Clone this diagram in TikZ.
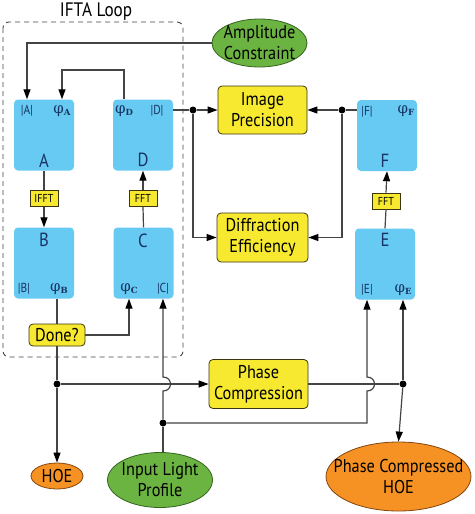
\documentclass[tikz,border=0pt]{standalone}
\usepackage{fontspec}
\setmainfont{PT Sans}[FakeStretch=0.88]
\newfontfamily\phfont{DejaVu Serif}
\usetikzlibrary{shapes.geometric,arrows.meta}

\definecolor{cellblue}{RGB}{102,202,242}
\definecolor{celltext}{RGB}{24,52,100}
\definecolor{stepyellow}{RGB}{246,233,48}
\definecolor{stepedge}{RGB}{60,54,16}
\definecolor{ovalgreen}{RGB}{108,180,66}
\definecolor{greenedge}{RGB}{50,100,30}
\definecolor{ovalorange}{RGB}{246,146,36}
\definecolor{orangeedge}{RGB}{130,70,16}
\definecolor{linegray}{RGB}{68,68,68}

\newcommand{\phlab}[1]{{\fontsize{15}{15}\selectfont\phfont φ}{\fontsize{8.5}{8.5}\selectfont\phfont\bfseries\raisebox{-2pt}{#1}}}

\tikzset{
  wire/.style={draw=linegray, line width=1.2pt},
  arr/.style={wire, -{Triangle[length=10pt,width=7pt,black]}},
  cell/.style={rectangle, rounded corners=4pt, fill=cellblue, minimum width=60pt, minimum height=71pt, inner sep=0pt},
  celltxt/.style={text=celltext, inner sep=0pt, font=\fontsize{13}{15}\selectfont},
  cellname/.style={text=celltext, inner sep=0pt, font=\fontsize{19}{21}\selectfont},
  stepbox/.style={rectangle, rounded corners=4pt, fill=stepyellow, draw=stepedge, line width=0.8pt, align=center, inner sep=0pt, font=\fontsize{18.5}{21}\selectfont},
  fftbox/.style={rectangle, fill=stepyellow, draw=stepedge, line width=0.8pt, minimum width=28pt, minimum height=16pt, inner sep=0pt, font=\fontsize{11.5}{12}\selectfont},
  oval/.style={ellipse, line width=0.8pt, inner sep=0pt},
  ovaltxt/.style={align=center, font=\fontsize{18.5}{21}\selectfont},
  dot/.style={circle, fill=black, minimum size=7pt, inner sep=0pt},
}

\begin{document}
\begin{tikzpicture}[x=1pt,y=-1pt]
  \useasboundingbox (0,0) rectangle (474,514);

  % IFTA loop frame
  \draw[draw=linegray, line width=0.9pt, dash pattern=on 5pt off 4pt, rounded corners=6pt] (3,22) rectangle (183,357);
  \node[font=\fontsize{19.5}{21}\selectfont] (loop) at (96,12) {IFTA Loop};

  % cells
  \node[cell] (A) at (44,135) {};
  \node[cell] (D) at (143,135) {};
  \node[cell] (B) at (44,263) {};
  \node[cell] (C) at (143.5,263) {};
  \node[cell] (F) at (387,135.5) {};
  \node[cell] (E) at (385,264) {};

  \node[celltxt] (Aabs) at (27,111) {|A|};
  \node[celltxt] (Aphi) at (62,111) {\phlab{A}};
  \node[cellname] (Aname) at (44,161) {A};
  \node[celltxt] (Dphi) at (124,111) {\phlab{D}};
  \node[celltxt] (Dabs) at (157,111) {|D|};
  \node[cellname] (Dname) at (143,160) {D};
  \node[cellname] (Bname) at (44,240) {B};
  \node[celltxt] (Babs) at (24,289) {|B|};
  \node[celltxt] (Bphi) at (59,289) {\phlab{B}};
  \node[cellname] (Cname) at (143,241) {C};
  \node[celltxt] (Cphi) at (129,289) {\phlab{C}};
  \node[celltxt] (Cabs) at (163,289) {|C|};
  \node[celltxt] (Fabs) at (367,112) {|F|};
  \node[celltxt] (Fphi) at (406,111) {\phlab{F}};
  \node[cellname] (Fname) at (385,161) {F};
  \node[cellname] (Ename) at (385,240) {E};
  \node[celltxt] (Eabs) at (367,290) {|E|};
  \node[celltxt] (Ephi) at (403,290) {\phlab{E}};

  % transforms
  \node[fftbox] (ifft) at (44,198.5) {IFFT};
  \node[fftbox] (fftL) at (143,198.5) {FFT};
  \node[fftbox] (fftR) at (386,201) {FFT};

  % steps
  \node[stepbox, minimum width=56pt, minimum height=22pt] (done) at (57,335) {Done?};
  \node[stepbox, minimum width=89pt, minimum height=48pt] (img) at (262.5,110) {Image\\Precision};
  \node[stepbox, minimum width=91pt, minimum height=49pt] (diff) at (262.5,237.5) {Diffraction\\Efficiency};
  \node[stepbox, minimum width=99pt, minimum height=49pt] (phc) at (258.5,384) {Phase\\Compression};

  % inputs and outputs
  \node[oval, fill=ovalgreen, draw=greenedge, minimum width=95pt, minimum height=48pt,
        label={[ovaltxt]center:Amplitude\\Constraint}] (amp) at (259.5,43) {};
  \node[oval, fill=ovalorange, draw=orangeedge, minimum width=52pt, minimum height=26pt,
        label={[ovaltxt]center:HOE}] (hoe) at (57,476) {};
  \node[oval, fill=ovalgreen, draw=greenedge, minimum width=105pt, minimum height=55pt,
        label={[ovaltxt]center:Input Light\\Profile}] (inp) at (160,480) {};
  \node[oval, fill=ovalorange, draw=orangeedge, minimum width=145pt, minimum height=69pt,
        label={[ovaltxt]center:Phase Compressed\\HOE}] (pchoe) at (398.5,476.5) {};

  % junctions
  \node[dot] (dD) at (193,110) {};
  \node[dot] (dF) at (342,110) {};
  \node[dot] (dH) at (57,384) {};
  \node[dot] (dI) at (163,423) {};
  \node[dot] (dP) at (403,384) {};
  \coordinate (top) at (0,70);

  % loop connectors
  \draw[arr] (amp.west) -| (A.north -| Aabs);
  \draw[arr] (D.north -| Dphi) -- (Dphi |- top) -| (A.north -| Aphi);
  \draw[wire] (A.south) -- (ifft.north);
  \draw[arr] (ifft.south) -- (B.north);
  \draw[wire] (C.north) -- (fftL.south);
  \draw[arr] (fftL.north) -- (D.south);
  \draw[wire] (B.south -| done) -- (done.north);
  \draw[arr] (done.east) -| (C.south -| Cphi);

  % metrics
  \draw[wire] (D.east |- dD) -- (dD);
  \draw[arr] (dD) -- (img.west);
  \draw[arr] (dD) |- (diff.west);
  \draw[wire] (F.west |- dF) -- (dF);
  \draw[arr] (dF) -- (img.east);
  \draw[arr] (dF) |- (diff.east);
  \draw[wire] (E.north) -- (fftR.south);
  \draw[arr] (fftR.north) -- (F.south);

  % outputs
  \draw[wire] (done.south) -- (dH);
  \draw[arr] (dH) -- (hoe.north);
  \draw[arr] (dH) -- (phc.west);
  \draw[wire] (phc.east) -- (dP);
  \draw[arr] (dP) -- (E.south -| Ephi);
  \draw[arr] (dP) -- (pchoe.north);

  % input light with hops
  \draw[wire] (inp.north -| dI) -- (dI);
  \draw[arr] (dI) -- ([yshift=-7pt]dI |- dH) .. controls +(10,0) and +(10,0) .. ([yshift=7pt]dI |- dH) -- (C.south -| Cabs);
  \draw[arr] (dI) -| ([yshift=-7pt]Eabs |- dP) .. controls +(10,0) and +(10,0) .. ([yshift=7pt]Eabs |- dP) -- (E.south -| Eabs);
\end{tikzpicture}
\end{document}
